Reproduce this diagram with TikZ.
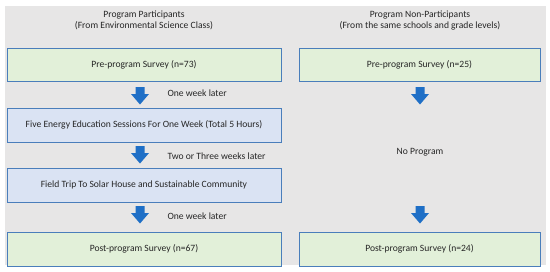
\documentclass[tikz,border=0pt]{standalone}
\usepackage{fontspec}
\setmainfont{Carlito}
\definecolor{bggray}{HTML}{E7E6E6}
\definecolor{boxgreen}{HTML}{E2F0D9}
\definecolor{boxblue}{HTML}{DAE3F3}
\definecolor{boxedge}{HTML}{4A7EBB}
\definecolor{arrowblue}{HTML}{1F6FC6}
\begin{document}
\begin{tikzpicture}[x=1pt,y=-1pt,
  every node/.style={font=\fontsize{9.6}{11}\selectfont, text=black!85},
  stage/.style={draw=boxedge, line width=1pt, inner sep=0pt},
  greenbox/.style={stage, fill=boxgreen},
  bluebox/.style={stage, fill=boxblue},
  downarrow/.style={fill=arrowblue}]
\useasboundingbox (0,0) rectangle (550,271);
\fill[bggray] (5,6) rectangle (546,265);
% left column
\node (lt) at (144,20.5) {\begin{tabular}{c}Program Participants\\(From Environmental Science Class)\end{tabular}};
\draw[greenbox] (7,48) rectangle (281,81);
\node (l1) at (144,64.5) {Pre-program Survey (n=73)};
\draw[bluebox] (7,108) rectangle (281,142);
\node (l2) at (144,125) {Five Energy Education Sessions For One Week (Total 5 Hours)};
\draw[bluebox] (7,168) rectangle (281,202);
\node (l3) at (144,185) {Field Trip To Solar House and Sustainable Community};
\draw[greenbox] (7,232) rectangle (281,266);
\node (l4) at (144,249) {Post-program Survey (n=67)};
% left arrows
\foreach \y in {87,146,206}{
  \fill[downarrow] (135.5,\y) -- (144.5,\y) -- (144.5,\y+7) -- (149,\y+7) -- (140,\y+17.5) -- (131,\y+7) -- (135.5,\y+7) -- cycle;
}
\node[anchor=west] (a1) at (164,93.5) {One week later};
\node[anchor=west] (a2) at (164,156) {Two or Three weeks later};
\node[anchor=west] (a3) at (164,216.5) {One week later};
% right column
\node (rt) at (420,20.5) {\begin{tabular}{c}Program Non-Participants\\(From the same schools and grade levels)\end{tabular}};
\draw[greenbox] (299,48) rectangle (540,81);
\node (r1) at (419.5,64.5) {Pre-program Survey (n=25)};
\draw[greenbox] (299,232) rectangle (540,266);
\node (r4) at (419.5,249) {Post-program Survey (n=24)};
\foreach \y in {87,206}{
  \fill[downarrow] (415.5,\y) -- (424.5,\y) -- (424.5,\y+7) -- (429,\y+7) -- (420,\y+17.5) -- (411,\y+7) -- (415.5,\y+7) -- cycle;
}
\node (np) at (420,152) {No Program};
\end{tikzpicture}
\end{document}
